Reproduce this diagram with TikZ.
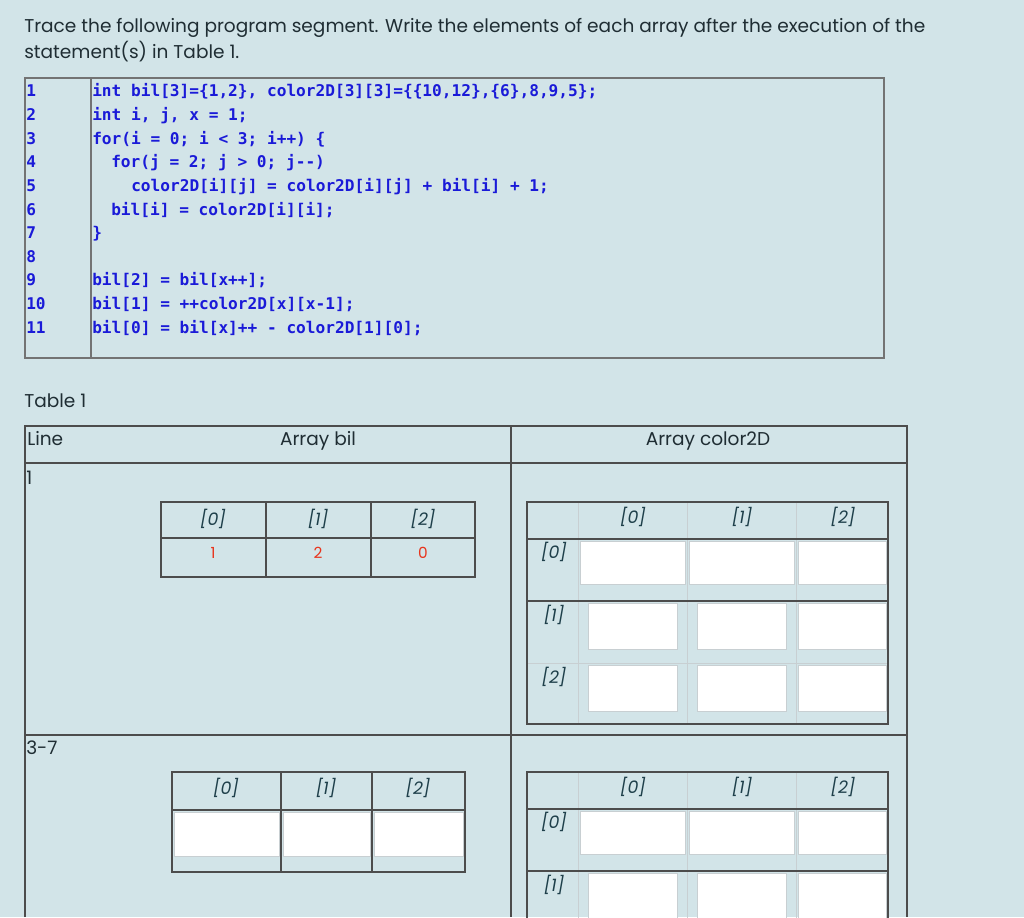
\documentclass[tikz,border=0pt]{standalone}
\usepackage{fontspec}
\setmainfont{Poppins}
\newfontfamily\codefont{DejaVu Sans Mono}
\definecolor{bg}{HTML}{D2E4E8}
\definecolor{codeblue}{HTML}{1A1AD8}
\definecolor{txt}{HTML}{1F2D33}
\definecolor{idx}{HTML}{1E3F4A}
\definecolor{redv}{HTML}{E8341C}
\definecolor{gline}{HTML}{C8CFD2}
\begin{document}
\begin{tikzpicture}[x=0.75pt,y=-0.75pt,
  title/.style={anchor=base west,inner sep=0,font=\fontsize{13.9}{15}\selectfont,text=txt},
  code/.style={anchor=base west,inner sep=0,font=\codefont\bfseries\fontsize{12.1}{13}\selectfont,text=codeblue},
  ix/.style={inner sep=0,font=\itshape\fontsize{13}{14}\selectfont,text=idx},
  val/.style={inner sep=0,font=\fontsize{11.5}{13}\selectfont,text=redv},
  frame/.style={draw=black!70,line width=0.8pt},
  thin/.style={draw=gline,line width=0.6pt},
  wbox/.style={fill=white,draw=gline,line width=0.6pt}]
\fill[bg] (0,0) rectangle (1024,917);
\useasboundingbox (0,0) rectangle (1024,917);
\node[title] (t1) at (24,33) {Trace the following program segment. Write the elements of each array after the execution of the};
\node[title] (t2) at (24,59) {statement(s) in Table 1.};
% code box
\draw[draw=black!55,line width=0.8pt] (25,78) rectangle (884,358);
\draw[draw=black!55,line width=0.8pt] (91,78) -- (91,358);
\foreach \n [count=\k] in {1,...,11}{
  \node[code] (ln\k) at (26,{97+(\k-1)*23.6}) {\n};
}
\node[code] (c1) at (92,97) {int bil[3]=\{1,2\}, color2D[3][3]=\{\{10,12\},\{6\},8,9,5\};};
\node[code] (c2) at (92,120.6) {int i, j, x = 1;};
\node[code] (c3) at (92,144.2) {for(i = 0; i < 3; i++) \{};
\node[code] (c4) at (111,167.8) {for(j = 2; j > 0; j--)};
\node[code] (c5) at (131,191.4) {color2D[i][j] = color2D[i][j] + bil[i] + 1;};
\node[code] (c6) at (111,215) {bil[i] = color2D[i][i];};
\node[code] (c7) at (92,238.6) {\}};
\node[code] (c9) at (92,285.8) {bil[2] = bil[x++];};
\node[code] (c10) at (92,309.4) {bil[1] = ++color2D[x][x-1];};
\node[code] (c11) at (92,333) {bil[0] = bil[x]++ - color2D[1][0];};
\node[title] (tab) at (24,407) {Table 1};
% main table
\draw[frame] (25,917) -- (25,426) -- (907,426) -- (907,917);
\draw[frame] (25,463) -- (907,463);
\draw[frame] (25,735) -- (907,735);
\draw[frame] (511,426) -- (511,917);
\node[title] (hl) at (27,445) {Line};
\node[title,anchor=base] (hb) at (318,445) {Array bil};
\node[title,anchor=base] (hc) at (708,445) {Array color2D};
\node[title] (r1) at (26,484) {1};
\node[title] (r2) at (26,754) {3-7};
% bil table row 1
\draw[frame] (161,502) rectangle (475,577);
\draw[frame] (161,538) -- (475,538);
\foreach \a in {266,371}{\draw[frame] (\a,502) -- (\a,577);}
\node[ix] (b0) at (213,519) {[0]};
\node[ix] (b1) at (318,519) {[1]};
\node[ix] (b2) at (423,519) {[2]};
\node[val] (v0) at (213,553) {1};
\node[val] (v1) at (318,553) {2};
\node[val] (v2) at (423,553) {0};
\foreach \top in {502,772}{
  \begin{scope}[shift={(0,\top-502)}]
  \draw[thin] (578,502) -- (578,724);
  \draw[thin] (687,502) -- (687,724);
  \draw[thin] (796,502) -- (796,724);
  \draw[thin] (527,663) -- (888,663);
  \draw[draw=black!70,line width=0.8pt] (527,539) -- (888,539);
  \draw[draw=black!70,line width=0.8pt] (527,601) -- (888,601);
  \draw[wbox] (580,541) rectangle (685,584);
  \draw[wbox] (689,541) rectangle (794,584);
  \draw[wbox] (798,541) rectangle (886,584);
  \foreach \yy in {603,665}{
    \draw[wbox] (588,\yy) rectangle (677,\yy+46);
    \draw[wbox] (697,\yy) rectangle (786,\yy+46);
    \draw[wbox] (798,\yy) rectangle (886,\yy+46);
  }
  \draw[frame] (527,724) -- (527,502) -- (888,502) -- (888,724) -- cycle;
  \end{scope}
}
\node[ix] (cc0) at (633,517) {[0]};
\node[ix] (cc1) at (742,517) {[1]};
\node[ix] (cc2) at (843,517) {[2]};
\node[ix] (cr0) at (554,552) {[0]};
\node[ix] (cr1) at (554,615) {[1]};
\node[ix] (cr2) at (554,677) {[2]};
\node[ix] (dc0) at (633,787) {[0]};
\node[ix] (dc1) at (742,787) {[1]};
\node[ix] (dc2) at (843,787) {[2]};
\node[ix] (dr0) at (554,822) {[0]};
\node[ix] (dr1) at (554,885) {[1]};
% bil table row 2
\draw[frame] (172,772) rectangle (465,872);
\draw[frame] (172,810) -- (465,810);
\draw[frame] (281,772) -- (281,872);
\draw[frame] (372,772) -- (372,872);
\draw[wbox] (174,812) rectangle (279,856);
\draw[wbox] (283,812) rectangle (370,856);
\draw[wbox] (374,812) rectangle (463,856);
\node[ix] (e0) at (226,788) {[0]};
\node[ix] (e1) at (326,788) {[1]};
\node[ix] (e2) at (418,788) {[2]};
\end{tikzpicture}
\end{document}
